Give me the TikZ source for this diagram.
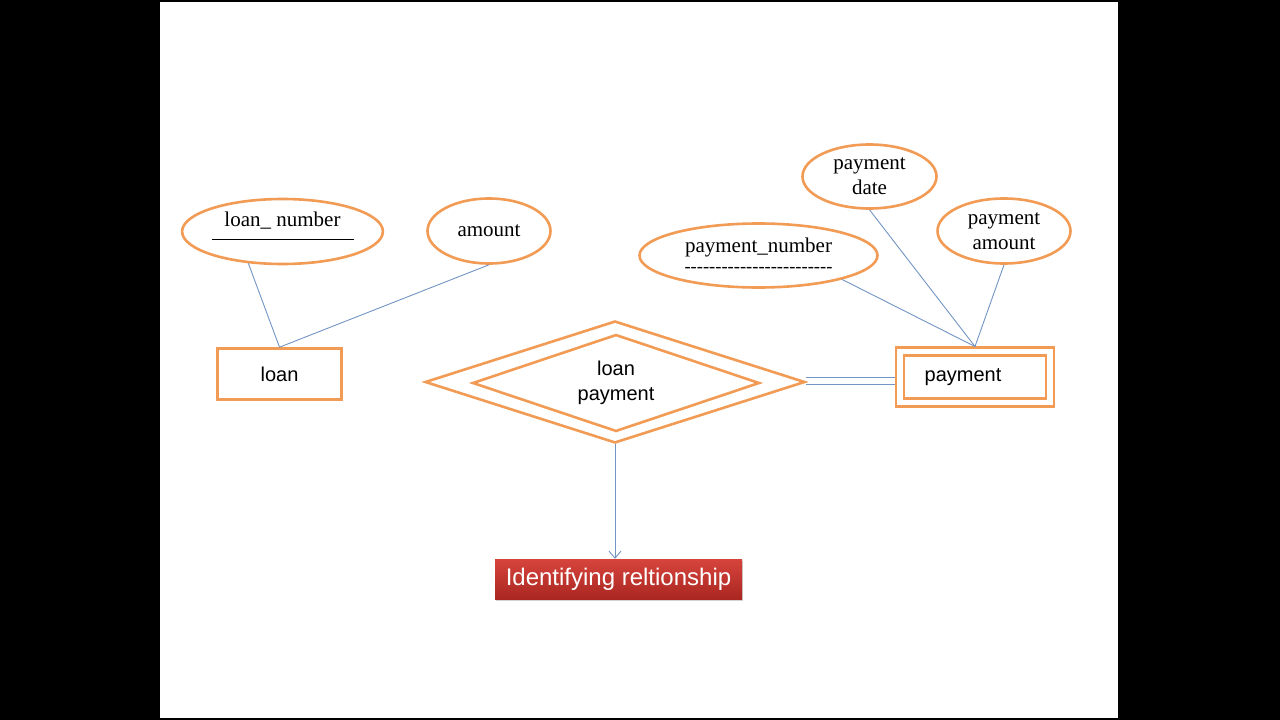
\documentclass[tikz,border=0pt]{standalone}
\usepackage{fontspec}
\setmainfont{Liberation Serif}
\setsansfont{Liberation Sans}
\usetikzlibrary{arrows.meta,shapes.geometric,shadows}
\definecolor{ErOrange}{HTML}{F29B55}
\definecolor{LinkBlue}{HTML}{7395C4}
\definecolor{NoteTop}{HTML}{D6443C}
\definecolor{NoteBot}{HTML}{AA2621}
\newcommand{\keyrule}{\rule{142pt}{1pt}\rule[-11pt]{0pt}{11pt}}
\newcommand{\dashrow}{{\fontsize{18.5}{25}\selectfont\foreach \k in {1,...,24}{\mbox{-}}}}

\begin{document}
\begin{tikzpicture}[x=1pt,y=-1pt,
  ent/.style={draw=ErOrange,line width=2.6pt,fill=white,minimum width=124pt,minimum height=51pt,font=\sffamily\fontsize{20}{24}\selectfont},
  went/.style={ent,double=white,double distance=5.5pt,minimum width=150pt,outer sep=5pt},
  attr/.style={ellipse,draw=ErOrange,line width=2.6pt,fill=white,inner sep=0pt,minimum height=65pt,align=center,font=\fontsize{21}{25}\selectfont},
  rel/.style={diamond,draw=ErOrange,line width=2.6pt,inner sep=0pt,align=center,font=\sffamily\fontsize{20}{25}\selectfont},
  link/.style={draw=LinkBlue,line width=0.9pt},
  note/.style={top color=NoteTop,bottom color=NoteBot,draw=none,minimum width=247pt,minimum height=40pt,text=white,font=\sffamily\fontsize{24}{28}\selectfont,drop shadow={opacity=0.35,shadow xshift=1pt,shadow yshift=-2pt}}
]
\useasboundingbox (0,0) rectangle (1280,720);
\fill[black] (0,0) rectangle (1280,720);
\fill[white] (160,1.5) rectangle (1118,718);

% entities
\node[ent] (loan) at (279.5,374) {loan};
\node[went] (pay) at (975,377) {payment\hspace*{24pt}};

% attributes
\node[attr,minimum width=198pt] (lnum) at (282.5,231.5) {loan\_ number\\[-11pt]\keyrule};
\node[attr,minimum width=123pt] (amt) at (489,231) {amount};
\node[attr,minimum width=238pt,minimum height=64pt] (pnum) at (758.5,255.5) {payment\_number\\[-5pt]\dashrow};
\node[attr,minimum width=134pt,minimum height=64pt] (pdate) at (869.5,176.5) {payment\\date};
\node[attr,minimum width=133pt] (pamt) at (1004,231) {payment\\amount};

% identifying relationship
\node[rel,aspect=3.1,minimum width=380pt,minimum height=122pt] (rel) at (615,382) {};
\node[rel,aspect=2.96,minimum width=287pt,minimum height=97pt] (relin) at (616,383) {loan\\payment};
\node[note] (idrel) at (618.5,579) {Identifying reltionship};

\draw[link] (lnum.223) -- (loan.north);
\draw[link] (amt.south) -- (loan.north);
\draw[link] (pnum.-16) -- (pay.north);
\draw[link] (pdate.south) -- (pay.north);
\draw[link] (pamt.south) -- (pay.north);
\draw[link] ([yshift=5pt]rel.east) -- ([yshift=5pt]rel.east -| pay.west);
\draw[link] ([yshift=-2pt]rel.east) -- ([yshift=-2pt]rel.east -| pay.west);
\draw[link,-{Straight Barb[length=7pt,width=12pt]}] (rel.south) -- (rel.south |- idrel.north);
\end{tikzpicture}
\end{document}
